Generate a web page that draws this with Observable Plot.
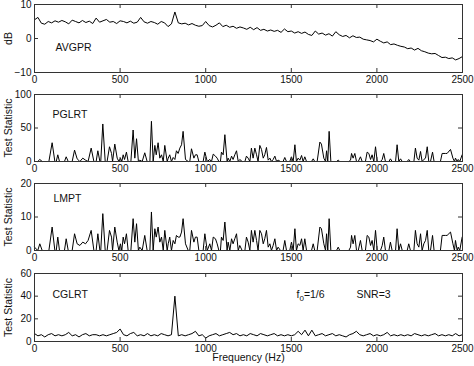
<!DOCTYPE html>
<html><head><meta charset="utf-8">
<script src="https://cdn.jsdelivr.net/npm/d3@7"></script>
<script src="https://cdn.jsdelivr.net/npm/@observablehq/plot@0.6"></script>
<style>
html,body{margin:0;padding:0;background:#fff;}
#chart{width:474px;height:366px;position:relative;overflow:hidden;font-family:"Liberation Sans",Arial,Helvetica,sans-serif;}
#chart svg{display:block;overflow:visible;}
</style></head><body><div id="chart"></div>
<script>
const xTicks = [0, 500, 1000, 1500, 2000, 2500];
const panelNames = ["AVGPR", "PGLRT", "LMPT", "CGLRT"];
const yLabels = ["dB", "Test Statistic", "Test Statistic", "Test Statistic"];
const yTicksList = [[-10, 0, 10], [0, 50, 100], [0, 10, 20], [0, 20, 40, 60]];
const annotations = ["f0=1/6", "SNR=3"];
const xLabel = "Frequency (Hz)";

// AVGPR / CGLRT sampled every 20 Hz
const gridFreq = d3.range(0, 2501, 20);
const avgprDb = [
  5.5, 6.2, 4.5, 4.2, 5.0, 4.6, 5.2, 4.8, 5.3, 4.9, 4.3, 5.4, 5.0, 4.6, 5.3, 4.7, 5.1, 4.4, 6.0, 4.8, 5.2,
  5.6, 4.8, 5.0, 4.4, 5.2, 5.0, 4.6, 5.1, 4.5, 4.8, 6.2, 4.9, 4.5, 5.0, 4.7, 4.2, 5.0, 4.6, 3.5, 4.3,
  7.8, 4.6,
  4.3, 4.5, 4.0, 4.4, 3.9, 3.6, 3.8, 5.0,
  3.8, 3.4, 3.9, 4.6, 3.5, 3.9, 3.3, 3.6, 3.0, 3.4,
  3.1, 2.7, 3.3, 2.6, 3.2, 2.4, 2.7, 2.2, 2.5, 2.1,
  2.4, 1.8, 2.8, 2.0, 2.2, 1.6, 2.0, 1.5, 1.9, 1.2,
  0.9, 2.2, 1.3, 1.6, 1.0, 1.4, 0.7, 2.0, 1.1, 0.6,
  0.9, 0.2, 0.8, 0.3, 0.4, -0.2, -0.4, -0.6, -1.0, -0.2,
  -0.8, -1.3, -1.0, -1.8, -1.6, -2.0, -2.3, -2.5, -3.0, -2.8,
  -3.4, -2.9, -3.6, -3.9, -4.3, -4.5, -4.4, -5.0, -5.6, -5.5,
  -5.9, -5.7, -6.3, -5.9, -5.3
];
const cglrtVal = [
  7, 5, 6, 4, 6, 7, 5, 6, 5, 6, 8, 5, 6, 4, 6, 7, 5, 6, 6, 5, 6,
  5, 6, 7, 8, 11, 6, 5, 7, 8, 5, 6, 5, 7, 5, 6, 5, 7, 6, 5, 6,
  40, 5,
  6, 5, 6, 7, 9, 5, 6, 3,
  5, 6, 7, 5, 6, 7, 8, 6, 7, 5,
  6, 5, 7, 6, 5, 7, 6, 5, 6, 7,
  5, 6, 5, 6, 5, 6, 9, 6, 10, 5,
  10, 5, 6, 7, 5, 6, 7, 5, 6, 5,
  4, 6, 7, 9, 6, 5, 6, 7, 5, 6,
  5, 6, 8, 5, 6, 5, 6, 5, 6, 5,
  7, 6, 5, 6, 5, 6, 7, 5, 6, 5,
  6, 5, 7, 5, 6
];

// PGLRT / LMPT breakpoints
const peakFreq = [
  0,19,31,45,84,103,119,127,136,146,
  175,185,197,220,234,249,265,282,298,313,
  331,347,360,370,382,387,399,413,424,438,
  450,456,469,483,493,502,510,518,526,537,
  547,553,563,576,586,596,607,615,629,644,
  658,674,683,693,703,711,722,732,742,752,
  761,775,781,790,800,810,820,829,839,849,
  859,868,882,898,907,917,931,940,950,960,
  975,985,995,1009,1024,1034,1044,1057,1067,1077,
  1086,1092,1102,1112,1125,1131,1141,1151,1160,1170,
  1180,1190,1199,1213,1229,1238,1248,1258,1267,1277,
  1287,1297,1306,1316,1326,1336,1345,1355,1365,1375,
  1384,1394,1404,1414,1423,1437,1452,1462,1472,1491,
  1501,1511,1521,1530,1540,1550,1560,1569,1579,1589,
  1618,1628,1637,1651,1667,1676,1690,1700,1706,1713,
  1721,1731,1739,1764,1774,1783,1836,1846,1852,1861,
  1871,1881,1891,1904,1914,1933,1943,1953,1963,1972,
  1982,1992,2002,2021,2031,2040,2050,2070,2079,2089,
  2109,2118,2128,2138,2148,2177,2186,2196,2216,2225,
  2235,2245,2255,2264,2274,2284,2294,2303,2313,2325,
  2334,2371,2381,2401,2410,2430,2444,2453,2459,2469,
  2475,2484,2498
];
const pglrtVal = [
  0,0,3,0,0,28,0,0,10,0,
  0,7,0,0,17,4,0,5,2,0,
  20,0,0,16,0,0,56,0,0,22,
  12,0,26,5,0,5,0,10,3,14,
  0,0,0,47,5,34,0,2,0,13,
  0,0,60,0,24,10,28,5,10,0,
  24,0,5,10,0,6,3,16,12,20,
  25,45,3,0,0,19,5,10,10,0,
  0,0,14,0,3,0,11,8,5,0,
  0,14,10,40,0,5,0,8,3,10,
  16,0,3,0,0,8,5,0,20,5,
  20,10,0,24,18,5,10,21,2,5,
  0,3,8,0,2,0,0,6,0,0,
  7,0,25,0,5,2,9,0,7,0,
  0,4,0,0,29,26,5,0,16,0,
  45,0,0,0,2,0,0,2,12,5,
  12,0,0,7,0,0,14,12,3,10,
  0,22,0,0,3,12,0,0,4,0,
  0,25,0,4,0,0,3,0,0,20,
  5,2,15,0,3,5,22,0,0,14,
  0,0,12,12,12,18,5,0,5,0,
  3,0,10
];
const lmptVal = [
  1,0,2,0,0,7,0,0,4,0,
  0,3.5,0,0,5,2,1.5,2.5,2,3,
  6,0,0,5,0,0,11,0,0,6,
  4,0,7,2.5,0,2,0,4,2,5,
  0,0,0,9.5,2.5,8,0,1,0,4.5,
  0,0,11.5,0,6.5,4,7,2.5,4,0,
  6,0,2,4,0,3,2,4.5,4,4,
  5.5,9.5,2,0,0,6,2.5,4,4,0,
  0,0,5,0,2,0,4,3.5,2,0,
  0,4,3,8.5,0,2.5,0,3.5,2,3.5,
  5,0,1.5,0,0,4,2.5,0,6,2.5,
  6,3,0,6,5,2,3.5,6,1,2,
  0,1.5,3.5,0,1,0,0,3,0,0,
  2.5,0,6.5,0,2,1.5,3.5,0,3.5,0,
  0,2,0,0,7,6.5,2,0,5,0,
  9.5,0,0,0,1,0,0,1,4.5,2,
  4.5,0,0,3,0,0,4.5,4,1.5,3,
  0,6,0,0,1.5,4,0,0,2.5,0,
  0,6.5,0,2,0,0,2,0,0,6,
  2,1,5,0,2,3,6,0,0,4.5,
  0,0,4.5,4.5,4.5,5.5,2,0,3,0,
  1,0,4
];

const FONT = '"Liberation Sans", Arial, Helvetica, sans-serif';
const W = 474, ML = 34, MR = 12, MT = 4;
const AX = "#333";

function panel({freq, vals, yTicks, name, ylabel, height, marginBottom, nameDx, nameDy, extra = []}) {
  const plotH = height - MT - marginBottom;
  const plotW = W - ML - MR;
  const data = freq.map((f, i) => ({f, v: vals[i]}));
  const innerX = xTicks.slice(1, -1);
  const innerY = yTicks.slice(1, -1);
  return Plot.plot({
    width: W, height, marginLeft: ML, marginRight: MR, marginTop: MT, marginBottom,
    x: {domain: [0, 2500]},
    y: {domain: [yTicks[0], yTicks[yTicks.length - 1]]},
    style: {fontFamily: FONT, fontSize: "10px", overflow: "visible", background: "transparent", color: "#111"},
    marks: [
      Plot.line(data, {x: "f", y: "v", stroke: "#000", strokeWidth: 1}),
      Plot.frame({stroke: AX}),
      Plot.tickX(innerX, {x: d => d, insetTop: plotH - 4, stroke: AX}),
      Plot.tickX(innerX, {x: d => d, insetBottom: plotH - 4, stroke: AX}),
      Plot.tickY(innerY, {y: d => d, insetRight: plotW - 4, stroke: AX}),
      Plot.tickY(innerY, {y: d => d, insetLeft: plotW - 4, stroke: AX}),
      Plot.axisX({ticks: xTicks, tickSize: 0, tickPadding: 3, label: null, tickFormat: d => String(d)}),
      Plot.axisY({ticks: yTicks, tickSize: 0, tickPadding: 3, label: null, tickFormat: d => d < 0 ? "\u2212" + Math.abs(d) : String(d)}),
      Plot.text([ylabel], {text: d => d, frameAnchor: "left", dx: -26, rotate: -90, textAnchor: "middle", fontSize: 10.5}),
      Plot.text([name], {text: d => d, frameAnchor: "top-left", dx: nameDx, dy: nameDy, textAnchor: "start", fontSize: 10.5}),
      ...extra
    ]
  });
}

const chart = document.getElementById("chart");
chart.append(panel({freq: gridFreq, vals: avgprDb, yTicks: yTicksList[0], name: panelNames[0], ylabel: yLabels[0], height: 90, marginBottom: 18, nameDx: 21, nameDy: 39}));
chart.append(panel({freq: peakFreq, vals: pglrtVal, yTicks: yTicksList[1], name: panelNames[1], ylabel: yLabels[1], height: 89, marginBottom: 18, nameDx: 18, nameDy: 16}));
chart.append(panel({freq: peakFreq, vals: lmptVal, yTicks: yTicksList[2], name: panelNames[2], ylabel: yLabels[2], height: 90, marginBottom: 19, nameDx: 19, nameDy: 11}));
const last = panel({freq: gridFreq, vals: cglrtVal, yTicks: yTicksList[3], name: panelNames[3], ylabel: yLabels[3], height: 97, marginBottom: 25, nameDx: 18, nameDy: 17,
  extra: [
    Plot.text([annotations[0]], {text: d => d, frameAnchor: "top-left", dx: 262, dy: 17, textAnchor: "start", fontSize: 10.5, className: "f0note"}),
    Plot.text([annotations[1]], {text: d => d, frameAnchor: "top-left", dx: 322, dy: 17, textAnchor: "start", fontSize: 10.5}),
    Plot.text([xLabel], {text: d => d, frameAnchor: "bottom", dy: 19, textAnchor: "middle", fontSize: 10.5})
  ]});
chart.append(last);
// subscript for f0
d3.select(last).selectAll(".f0note text").each(function() {
  const t = d3.select(this);
  const s = t.text();
  t.text(null);
  t.append("tspan").text(s.slice(0, 1));
  t.append("tspan").attr("dy", "3").attr("font-size", "8").text(s.slice(1, 2));
  t.append("tspan").attr("dy", "-3").text(s.slice(2));
});
</script>
</body></html>
